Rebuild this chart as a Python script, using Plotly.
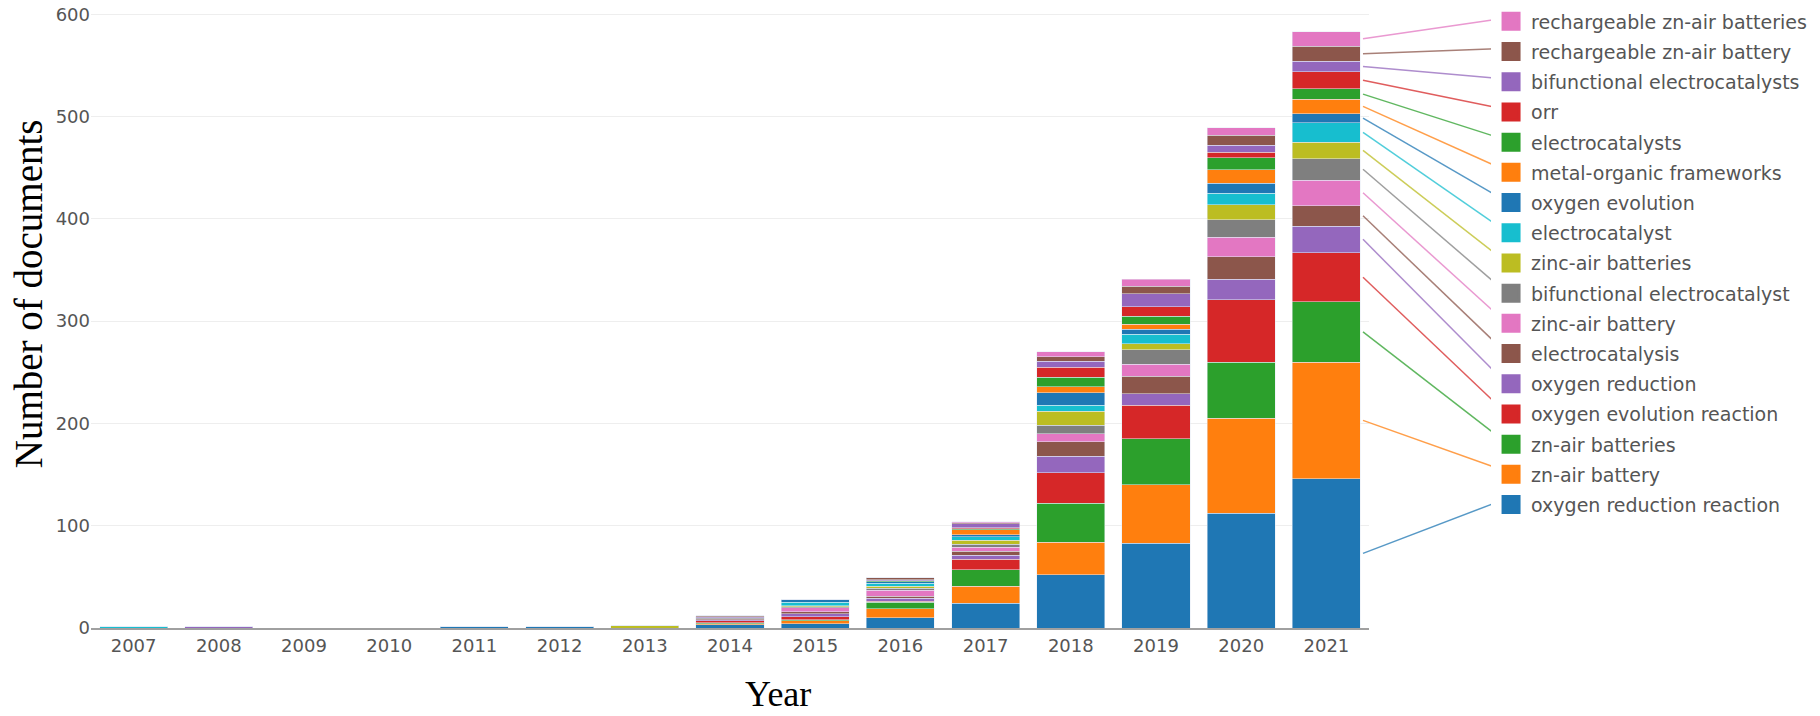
import plotly.graph_objects as go

# years on the x axis
years = [str(y) for y in range(2007, 2022)]

# documents per keyword and year (2007 ... 2021), stacked bottom to top
oxygen_reduction_reaction = [0, 0, 0, 0, 1, 1, 0, 3, 4, 10, 24, 52, 83, 112, 146]
zn_air_battery = [0, 0, 0, 0, 0, 0, 0, 1, 3, 9, 17, 32, 57, 93, 114]
zn_air_batteries = [0, 0, 0, 0, 0, 0, 0, 1, 1, 6, 16, 38, 45, 55, 59]
oxygen_evolution_reaction = [0, 0, 0, 0, 0, 0, 0, 2, 3, 1, 10, 30, 33, 61, 48]
oxygen_reduction = [0, 1, 0, 0, 0, 0, 0, 1, 3, 3, 4, 16, 11, 20, 26]
electrocatalysis = [0, 0, 0, 0, 0, 0, 0, 1, 2, 2, 4, 14, 17, 22, 20]
zinc_air_battery = [0, 0, 0, 0, 0, 0, 0, 0, 4, 6, 4, 8, 12, 19, 25]
bifunctional_electrocatalyst = [0, 0, 0, 0, 0, 0, 0, 1, 1, 2, 3, 8, 14, 17, 21]
zinc_air_batteries = [0, 0, 0, 0, 0, 0, 2, 0, 1, 2, 4, 14, 6, 15, 16]
electrocatalyst = [1, 0, 0, 0, 0, 0, 0, 0, 3, 3, 3, 6, 9, 11, 19]
oxygen_evolution = [0, 0, 0, 0, 0, 0, 0, 0, 3, 1, 2, 12, 5, 10, 9]
metal_organic_frameworks = [0, 0, 0, 0, 0, 0, 0, 0, 0, 0, 5, 6, 5, 13, 14]
electrocatalysts = [0, 0, 0, 0, 0, 0, 0, 0, 0, 1, 1, 9, 8, 12, 10]
orr = [0, 0, 0, 0, 0, 0, 0, 0, 0, 0, 1, 10, 9, 5, 17]
bifunctional_electrocatalysts = [0, 0, 0, 0, 0, 0, 0, 1, 0, 1, 4, 6, 13, 7, 10]
rechargeable_zn_air_battery = [0, 0, 0, 0, 0, 0, 0, 1, 0, 2, 1, 4, 7, 10, 15]
rechargeable_zn_air_batteries = [0, 0, 0, 0, 0, 0, 0, 0, 0, 0, 1, 5, 7, 7, 14]

names = [
    "oxygen reduction reaction", "zn-air battery", "zn-air batteries",
    "oxygen evolution reaction", "oxygen reduction", "electrocatalysis",
    "zinc-air battery", "bifunctional electrocatalyst", "zinc-air batteries",
    "electrocatalyst", "oxygen evolution", "metal-organic frameworks",
    "electrocatalysts", "orr", "bifunctional electrocatalysts",
    "rechargeable zn-air battery", "rechargeable zn-air batteries",
]
series = [
    oxygen_reduction_reaction, zn_air_battery, zn_air_batteries,
    oxygen_evolution_reaction, oxygen_reduction, electrocatalysis,
    zinc_air_battery, bifunctional_electrocatalyst, zinc_air_batteries,
    electrocatalyst, oxygen_evolution, metal_organic_frameworks,
    electrocatalysts, orr, bifunctional_electrocatalysts,
    rechargeable_zn_air_battery, rechargeable_zn_air_batteries,
]

palette = ["#1f77b4", "#ff7f0e", "#2ca02c", "#d62728", "#9467bd",
           "#8c564b", "#e377c2", "#7f7f7f", "#bcbd22", "#17becf"]
colors = [palette[i % 10] for i in range(len(names))]

y_max = 614
plot_h = 628       # plot height in px (height 716, margin t=0, b=88)
leg_top = 18.5     # centre of first legend row, px from plot top
leg_step = 30.1    # legend row spacing, px

fig = go.Figure()

for name, vals, col in zip(names, series, colors):
    fig.add_trace(go.Bar(x=years, y=vals, name=name, marker_color=col,
                         showlegend=False, hoverinfo="x+y+name"))

# legend entries with larger square swatches, last series on top
for name, col in list(zip(names, colors))[::-1]:
    fig.add_trace(go.Scatter(x=[None], y=[None], mode="markers", name=name,
                             legendgroup=name, hoverinfo="skip",
                             marker=dict(symbol="square", size=16, color=col,
                                         line=dict(color=col, width=3))))

# connector lines from the 2021 segments to the legend swatches
shapes = []
base = 0
n = len(names)
for i, (vals, col) in enumerate(zip(series, colors)):
    mid = base + vals[-1] / 2
    base += vals[-1]
    row = n - 1 - i
    y_end = 1 - (leg_top + row * leg_step) / plot_h
    shapes.append(dict(type="line", xref="paper", yref="paper",
                       x0=0.9953, y0=mid / y_max, x1=1.1045, y1=y_end,
                       line=dict(color=col, width=1.5), opacity=0.75))

fig.update_layout(
    width=1820, height=716,
    barmode="stack", bargap=0.2,
    paper_bgcolor="white", plot_bgcolor="white",
    margin=dict(l=91, r=451, t=0, b=88),
    font=dict(family="DejaVu Sans", size=18, color="#555555"),
    shapes=shapes,
    legend=dict(x=1.0955, y=0.996, xanchor="left", yanchor="top",
                traceorder="grouped", tracegroupgap=2.5,
                font=dict(family="DejaVu Sans", size=19, color="#555555")),
    xaxis=dict(type="category", showline=True, linecolor="#a0a0a0",
               linewidth=2, showgrid=False, ticks=""),
    yaxis=dict(range=[0, y_max], dtick=100, gridcolor="#eeeeee",
               showline=False, zeroline=False, ticks=""),
    annotations=[
        dict(text="Year", x=0.5376, y=-0.1401, xref="paper", yref="paper",
             showarrow=False, xanchor="center", yanchor="bottom",
             font=dict(family="Liberation Serif", size=36, color="black")),
        dict(text="Number of documents", x=-0.0493, y=0.533, xref="paper",
             yref="paper", showarrow=False, textangle=-90,
             xanchor="center", yanchor="middle",
             font=dict(family="Liberation Serif", size=39, color="black")),
    ],
)

# page without the default body margin so the figure fills the window
fig.write_html("out.html", config={"displayModeBar": False},
               post_script="document.body.style.margin='0px';")
